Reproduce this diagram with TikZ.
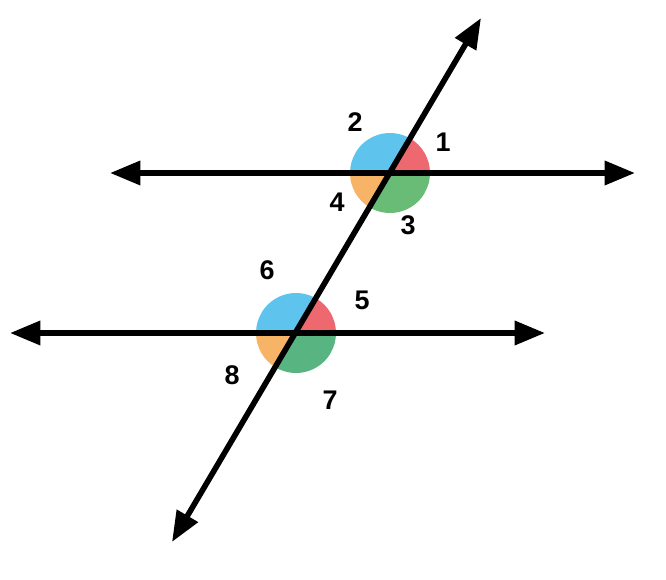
\documentclass[tikz,border=0pt]{standalone}
\usepackage{fontspec}
\setmainfont{Liberation Sans}
\usetikzlibrary{arrows.meta}
\definecolor{angA}{RGB}{238,104,112}
\definecolor{angB}{RGB}{94,196,238}
\definecolor{angC}{RGB}{248,180,102}
\definecolor{angD}{RGB}{104,188,118}
\definecolor{angE}{RGB}{88,180,128}
\tikzset{
    rayline/.style={line width=4.8pt,{Triangle[length=26pt,width=20pt]}-{Triangle[length=26pt,width=20pt]}},
    anglbl/.style={font=\fontsize{23}{27}\selectfont\bfseries}
}
\begin{document}
\begin{tikzpicture}[x=0.03cm,y=0.03cm]
    \useasboundingbox (0,0) rectangle (666,579);
    % puntos de corte
    \coordinate (P) at (390,406);
    \coordinate (Q) at (296,246);
    % extremos de las rectas
    \coordinate (pl) at (110,406);
    \coordinate (pr) at (635,406);
    \coordinate (ql) at (10,246);
    \coordinate (qr) at (545,246);
    \coordinate (tt) at (481,561);
    \coordinate (tb) at (172,37);

    % sectores de los angulos
    \foreach \c/\g in {P/angD,Q/angE} {
        \fill[angA] (\c) -- ++(0:40) arc[start angle=0,end angle=59.6,radius=40] -- cycle;
        \fill[angB] (\c) -- ++(59.6:40) arc[start angle=59.6,end angle=180,radius=40] -- cycle;
        \fill[angC] (\c) -- ++(180:40) arc[start angle=180,end angle=239.6,radius=40] -- cycle;
        \fill[\g] (\c) -- ++(239.6:40) arc[start angle=239.6,end angle=360,radius=40] -- cycle;
    }

    \draw[rayline] (pl) -- (pr);
    \draw[rayline] (ql) -- (qr);
    \draw[rayline] (tb) -- (tt);

    % etiquetas
    \foreach \n/\x/\y in {1/443/437,2/355/457,3/408/354,4/337/377,5/362/279,6/267/309,7/330/179,8/232/204} {
        \node[anglbl] (lbl\n) at (\x,\y) {\n};
    }
\end{tikzpicture}
\end{document}
